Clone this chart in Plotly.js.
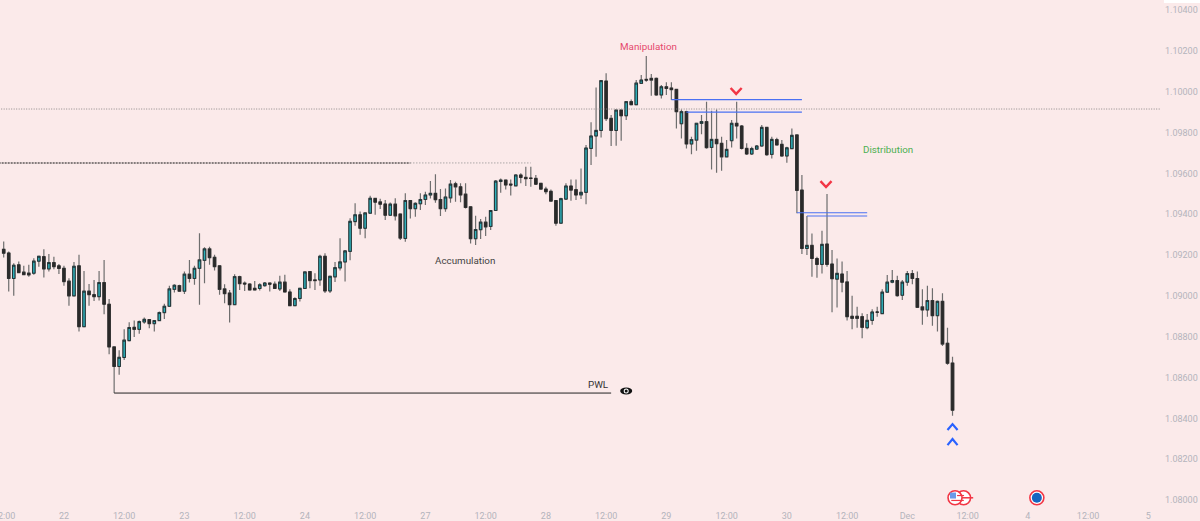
<!DOCTYPE html>
<html><head><meta charset="utf-8">
<script src="https://cdn.plot.ly/plotly-3.0.1.min.js"></script>
<style>html,body{margin:0;padding:0;background:#fbeaea;overflow:hidden}#c{width:1200px;height:521px}</style>
</head><body><div id="c"></div>
<script>
const opens=[1.09228,1.09210,1.09085,1.09152,1.09116,1.09111,1.09111,1.09170,1.09192,1.09132,
1.09163,1.09147,1.09135,1.09072,1.09000,1.09147,1.08849,1.09023,1.09006,1.08996,
1.09065,1.08959,1.08750,1.08654,1.08698,1.08781,1.08846,1.08836,1.08872,1.08884,
1.08864,1.08879,1.08918,1.08949,1.09032,1.09050,1.09023,1.09106,1.09085,1.09135,
1.09174,1.09230,1.09189,1.09147,1.09034,1.09014,1.08957,1.09094,1.09062,1.09058,
1.09037,1.09036,1.09050,1.09063,1.09057,1.09034,1.09067,1.09019,1.08952,1.08987,
1.09036,1.09119,1.09078,1.09078,1.09194,1.09024,1.09093,1.09137,1.09166,1.09218,
1.09364,1.09397,1.09331,1.09405,1.09477,1.09460,1.09450,1.09395,1.09449,1.09401,
1.09281,1.09467,1.09427,1.09451,1.09472,1.09494,1.09502,1.09472,1.09427,1.09480,
1.09549,1.09534,1.09498,1.09436,1.09280,1.09324,1.09361,1.09340,1.09418,1.09560,
1.09567,1.09547,1.09539,1.09592,1.09580,1.09577,1.09575,1.09551,1.09523,1.09512,
1.09467,1.09356,1.09474,1.09538,1.09520,1.09495,1.09507,1.09722,1.09783,1.09810,
1.10052,1.09869,1.09810,1.09910,1.09882,1.09951,1.09936,1.10041,1.10060,1.10065,
1.10065,1.09984,1.10024,1.10018,1.10011,1.09843,1.09902,1.09744,1.09763,1.09845,
1.09853,1.09727,1.09766,1.09747,1.09681,1.09760,1.09845,1.09832,1.09722,1.09695,
1.09719,1.09734,1.09825,1.09693,1.09765,1.09742,1.09685,1.09721,1.09788,1.09518,
1.09232,1.09247,1.09183,1.09154,1.09254,1.09156,1.09082,1.09107,1.09068,1.08900,
1.08900,1.08898,1.08844,1.08880,1.08921,1.08913,1.09018,1.09067,1.09075,1.09003,
1.09067,1.09109,1.09085,1.08946,1.08931,1.08977,1.08903,1.08973,1.08768,1.08671];
const closes=[1.09209,1.09085,1.09150,1.09114,1.09104,1.09103,1.09170,1.09194,1.09132,1.09163,
1.09143,1.09134,1.09070,1.09000,1.09145,1.08849,1.09023,1.09006,1.08996,1.09065,
1.08959,1.08750,1.08654,1.08699,1.08783,1.08845,1.08836,1.08874,1.08885,1.08864,
1.08879,1.08918,1.08949,1.09034,1.09052,1.09023,1.09106,1.09085,1.09135,1.09176,
1.09230,1.09187,1.09143,1.09032,1.09011,1.08957,1.09094,1.09060,1.09058,1.09029,
1.09029,1.09054,1.09063,1.09057,1.09036,1.09067,1.09019,1.08952,1.08987,1.09037,
1.09117,1.09075,1.09075,1.09194,1.09024,1.09096,1.09138,1.09166,1.09220,1.09365,
1.09397,1.09331,1.09406,1.09478,1.09459,1.09449,1.09395,1.09449,1.09392,1.09283,
1.09467,1.09427,1.09453,1.09472,1.09494,1.09502,1.09471,1.09427,1.09484,1.09547,
1.09534,1.09494,1.09433,1.09280,1.09325,1.09361,1.09338,1.09418,1.09562,1.09567,
1.09543,1.09543,1.09592,1.09580,1.09574,1.09575,1.09547,1.09523,1.09510,1.09464,
1.09356,1.09476,1.09538,1.09518,1.09494,1.09507,1.09724,1.09783,1.09810,1.10054,
1.09868,1.09810,1.09910,1.09882,1.09951,1.09936,1.10042,1.10057,1.10057,1.10057,
1.09984,1.10024,1.10016,1.10010,1.09902,1.09902,1.09744,1.09765,1.09845,1.09853,
1.09726,1.09766,1.09745,1.09681,1.09717,1.09845,1.09832,1.09722,1.09695,1.09721,
1.09734,1.09825,1.09691,1.09766,1.09739,1.09685,1.09725,1.09786,1.09516,1.09232,
1.09247,1.09183,1.09154,1.09252,1.09154,1.09084,1.09110,1.09067,1.08898,1.08890,
1.08890,1.08846,1.08880,1.08921,1.08920,1.09018,1.09067,1.09075,1.09001,1.09067,
1.09109,1.09085,1.08944,1.08931,1.08977,1.08903,1.08973,1.08764,1.08670,1.08440];
const highs=[1.09266,1.09217,1.09160,1.09168,1.09147,1.09152,1.09184,1.09197,1.09228,1.09205,
1.09191,1.09156,1.09147,1.09086,1.09166,1.09201,1.09122,1.09058,1.09078,1.09122,
1.09176,1.08985,1.08750,1.08734,1.08836,1.08871,1.08879,1.08879,1.08894,1.08885,
1.08882,1.08923,1.08961,1.09049,1.09057,1.09054,1.09119,1.09176,1.09147,1.09307,
1.09238,1.09241,1.09201,1.09147,1.09057,1.09029,1.09106,1.09098,1.09070,1.09062,
1.09073,1.09062,1.09068,1.09065,1.09070,1.09099,1.09103,1.09032,1.08993,1.09037,
1.09121,1.09119,1.09111,1.09201,1.09209,1.09098,1.09166,1.09282,1.09225,1.09380,
1.09454,1.09413,1.09408,1.09490,1.09478,1.09475,1.09470,1.09457,1.09478,1.09401,
1.09502,1.09469,1.09458,1.09502,1.09510,1.09562,1.09595,1.09523,1.09526,1.09567,
1.09559,1.09551,1.09551,1.09436,1.09392,1.09376,1.09387,1.09420,1.09567,1.09575,
1.09570,1.09570,1.09595,1.09600,1.09632,1.09632,1.09592,1.09554,1.09534,1.09521,
1.09469,1.09480,1.09551,1.09570,1.09570,1.09624,1.09739,1.09850,1.10021,1.10057,
1.10090,1.09886,1.09913,1.09913,1.09954,1.09962,1.10057,1.10082,1.10175,1.10086,
1.10070,1.10033,1.10046,1.10046,1.10013,1.09913,1.09907,1.09779,1.09848,1.09886,
1.09951,1.09907,1.09913,1.09779,1.09763,1.09861,1.09951,1.09837,1.09747,1.09730,
1.09739,1.09837,1.09828,1.09779,1.09774,1.09763,1.09730,1.09820,1.09788,1.09592,
1.09391,1.09306,1.09192,1.09319,1.09499,1.09224,1.09183,1.09168,1.09122,1.09000,
1.08947,1.08915,1.08911,1.08934,1.08947,1.09032,1.09102,1.09127,1.09098,1.09078,
1.09122,1.09127,1.09119,1.09032,1.09049,1.09037,1.08977,1.09013,1.08844,1.08702];
const lows=[1.09188,1.09021,1.09001,1.09114,1.09103,1.09094,1.09103,1.09143,1.09090,1.09119,
1.09130,1.09107,1.09049,1.08952,1.09000,1.08825,1.08849,1.08952,1.08975,1.08977,
1.08910,1.08714,1.08524,1.08614,1.08686,1.08776,1.08799,1.08814,1.08864,1.08841,
1.08825,1.08877,1.08887,1.08949,1.09016,1.09021,1.09009,1.09065,1.09055,1.08956,
1.09062,1.09152,1.09124,1.09005,1.08964,1.08869,1.08957,1.09029,1.09024,1.09029,
1.09029,1.09026,1.09045,1.09021,1.09036,1.09024,1.09019,1.08952,1.08949,1.08972,
1.09036,1.09037,1.09029,1.09050,1.09014,1.09014,1.09068,1.09124,1.09070,1.09174,
1.09343,1.09299,1.09282,1.09405,1.09397,1.09426,1.09372,1.09393,1.09369,1.09273,
1.09265,1.09379,1.09387,1.09420,1.09445,1.09477,1.09456,1.09391,1.09412,1.09456,
1.09461,1.09458,1.09428,1.09257,1.09249,1.09278,1.09293,1.09322,1.09417,1.09505,
1.09521,1.09492,1.09539,1.09551,1.09538,1.09534,1.09543,1.09521,1.09498,1.09461,
1.09343,1.09355,1.09469,1.09466,1.09469,1.09474,1.09449,1.09641,1.09681,1.09776,
1.09856,1.09734,1.09735,1.09760,1.09861,1.09935,1.09935,1.10037,1.10049,1.09980,
1.09980,1.09967,1.09984,1.09959,1.09820,1.09771,1.09722,1.09693,1.09711,1.09792,
1.09721,1.09619,1.09603,1.09613,1.09678,1.09727,1.09771,1.09717,1.09690,1.09690,
1.09714,1.09730,1.09686,1.09673,1.09739,1.09681,1.09652,1.09721,1.09404,1.09205,
1.09200,1.09094,1.09089,1.09110,1.09143,1.08920,1.08943,1.09018,1.08879,1.08836,
1.08844,1.08792,1.08836,1.08858,1.08898,1.08913,1.09016,1.09062,1.08996,1.08980,
1.09049,1.09057,1.08944,1.08858,1.08898,1.08853,1.08825,1.08755,1.08662,1.08413];
const tickIdx=[0,12,24,36,48,60,72,84,96,108,120,132,144,156,168,180,192,204,216,228];
const tickLabels=['12:00','22','12:00','23','12:00','24','12:00','27','12:00','28','12:00','29','12:00','30','12:00','Dec','12:00','4','12:00','5'];
const priceTicks=[1.08,1.082,1.084,1.086,1.088,1.09,1.092,1.094,1.096,1.098,1.10,1.102,1.104];
const UP='#2fb0ba',DN='#2a2a2a',EDGE='#1e2a2c',WICK='#6e6e6e',BLUE='#4a70f2',RED='#f23645',CHEV='#2962ff';
const xs=opens.map((_,i)=>i);
const bodyHi=opens.map((o,i)=>Math.max(o,closes[i]));
const bodyLo=opens.map((o,i)=>Math.min(o,closes[i]));
function seg(x,y,color,width,dash){return {type:'scatter',mode:'lines',x,y,hoverinfo:'skip',showlegend:false,line:{color,width,dash:dash||'solid'}};}
function dot(x,y,symbol,size,color,lineColor,lineWidth){return {type:'scatter',mode:'markers',x:[x],y:[y],hoverinfo:'skip',showlegend:false,marker:{symbol,size,color,line:{color:lineColor||color,width:lineWidth||0}}};}
const traces=[
 {type:'candlestick',x:xs,open:opens,high:highs,low:lows,close:closes,width:0.2,hoverinfo:'skip',showlegend:false,
  increasing:{line:{color:WICK,width:1.2},fillcolor:WICK},decreasing:{line:{color:WICK,width:1.2},fillcolor:WICK}},
 {type:'candlestick',x:xs,open:opens,high:bodyHi,low:bodyLo,close:closes,width:0.72,hoverinfo:'skip',showlegend:false,
  increasing:{line:{color:EDGE,width:0.9},fillcolor:UP},decreasing:{line:{color:DN,width:0.9},fillcolor:DN}},
 seg([-1,230.3],[1.09915,1.09915],'#8f8a8a',1,'1px,1.5px'),
 seg([-1,81],[1.09651,1.09651],'#111111',1.1,'2px,1px'),
 seg([81,105],[1.09651,1.09651],'#888888',1,'1px,2px'),
 seg([22,121],[1.08524,1.08524],'#222222',1),
 seg([133,159],[1.09961,1.09961],BLUE,1.2),
 seg([136,159],[1.09900,1.09900],BLUE,1.2),
 seg([158,172],[1.09407,1.09407],BLUE,1.2),
 seg([160,172],[1.09391,1.09391],BLUE,1.2),
 seg([144.8,145.9,147],[1.10018,1.09989,1.10018],RED,2.4),
 seg([162.7,163.8,164.9],[1.09562,1.09533,1.09562],RED,2.4),
 seg([188,189,190],[1.08343,1.08372,1.08343],CHEV,2.2),
 seg([188,189,190],[1.08269,1.08299,1.08269],CHEV,2.2),
 dot(124,1.08534,'circle',5,'#ffffff'),
 dot(124,1.08534,'circle',3,'#111111'),
 dot(191.2,1.08011,'circle',14,'#ffffff',RED,1.6),
 dot(192,1.08011,'line-ew',8,RED,RED,1.5),
 dot(189.5,1.08011,'circle',14,'#ffffff',RED,1.6),
 dot(189.1,1.08022,'square',6,'#6a9ae8'),
 dot(190.6,1.08022,'line-ew',5,RED,RED,1.2),
 dot(190,1.07998,'line-ew',9,RED,RED,1.2),
 dot(205.8,1.08011,'circle',14,'#ffffff',RED,1.6),
 dot(205.8,1.08011,'circle',10,'#1565c0')
];
const note=(x,y,text,color)=>({x,y,text,xref:'x',yref:'y',showarrow:false,xanchor:'center',yanchor:'middle',font:{family:'Roboto, sans-serif',size:9.8,color}});
const layout={
 width:1200,height:521,margin:{l:0,r:40,t:0,b:13,pad:0},
 paper_bgcolor:'#fbeaea',plot_bgcolor:'#fbeaea',showlegend:false,dragmode:false,
 font:{family:'Roboto, sans-serif',size:9,color:'#b4b4bc'},
 xaxis:{type:'linear',range:[-0.737,230.33],tickmode:'array',tickvals:tickIdx,ticktext:tickLabels,showgrid:false,zeroline:false,showline:false,ticks:'',tickangle:0,ticklabelstandoff:1,
  rangeslider:{visible:false},tickfont:{family:'Roboto, sans-serif',size:9,color:'#b4b4bc'}},
 yaxis:{side:'right',range:[1.07961,1.10449],tickmode:'array',tickvals:priceTicks,tickformat:'.5f',showgrid:false,zeroline:false,showline:false,ticks:'',ticklabelstandoff:4,
  tickfont:{family:'Roboto, sans-serif',size:9,color:'#b4b4bc'}},
 shapes:[
  {type:'circle',xref:'x',yref:'y',x0:122.8,x1:125.2,y0:1.08517,y1:1.08551,fillcolor:'#111111',line:{width:0},layer:'below'},
  {type:'rect',xref:'paper',yref:'paper',x0:1.0034,x1:1.0345,y0:0.994,y1:1,fillcolor:'#ffffff',line:{width:0}}
 ],
 annotations:[
  note(128.5,1.10219,'Manipulation','#e5496c'),
  note(176.2,1.09719,'Distribution','#4caf50'),
  note(91.9,1.09171,'Accumulation','#444444'),
  note(118.4,1.08568,'PWL','#333333'),
  {x:tickIdx[0],y:-0.0152,xref:'x',yref:'paper',text:tickLabels[0],showarrow:false,xanchor:'center',yanchor:'middle',font:{family:'Roboto, sans-serif',size:9,color:'#b4b4bc'}}
 ]
};
Plotly.newPlot('c',traces,layout,{staticPlot:true,displayModeBar:false});
</script></body></html>
